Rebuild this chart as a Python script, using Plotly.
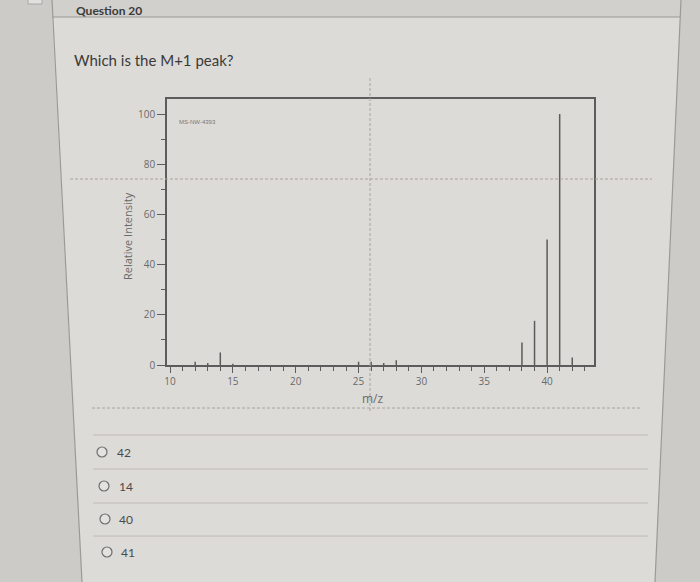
import plotly.graph_objects as go

# ---- data ----
mz = [12, 13, 14, 15, 25, 26, 27, 28, 38, 39, 40, 41, 42]
intensity = [1.3, 0.8, 5.0, 0.5, 1.3, 1.3, 0.8, 1.9, 9.0, 17.6, 50.0, 100.0, 3.0]
x_tick_vals = [10, 15, 20, 25, 30, 35, 40]
y_tick_vals = [0, 20, 40, 60, 80, 100]
options = ["42", "14", "40", "41"]
question = "Which is the M+1 peak?"

W, H = 700, 582
L, R, T, B = 167, 594, 99, 365  # plot area in pixels


def px(x):
    return (x - L) / (R - L)


def py(y):
    return (B - y) / (B - T)


xs, ys = [], []
for m, v in zip(mz, intensity):
    xs += [m, m, None]
    ys += [0, v, None]

fig = go.Figure()
fig.add_trace(go.Scatter(x=xs, y=ys, mode="lines",
                         line=dict(color="#5c5c5c", width=1.5),
                         hoverinfo="skip", showlegend=False))

axis_col = "#5c5c5c"
tick_font = dict(family="Open Sans, Arial, sans-serif", size=10, color="#6a6a6a")

fig.update_xaxes(range=[9.76, 43.73], tickvals=x_tick_vals, ticks="outside", ticklen=6,
                 tickcolor=axis_col, tickwidth=1.2,
                 minor=dict(dtick=1, tick0=10, ticks="outside", ticklen=4,
                            tickcolor=axis_col, tickwidth=1),
                 showline=True, linecolor=axis_col, linewidth=1.5, mirror=True,
                 showgrid=False, zeroline=False, tickfont=tick_font)
fig.update_yaxes(range=[0, 106], tickvals=y_tick_vals, ticks="outside", ticklen=8,
                 tickcolor=axis_col, tickwidth=1.2,
                 minor=dict(dtick=10, tick0=0, ticks="outside", ticklen=4,
                            tickcolor=axis_col, tickwidth=1),
                 showline=True, linecolor=axis_col, linewidth=1.5, mirror=True,
                 showgrid=False, zeroline=False, tickfont=tick_font)

shapes = []
panel_col = "#dddbd7"
outside_col = "#cdcbc8"
border_col = "#9c9a97"

# panel (slanted edges from photo perspective)
shapes.append(dict(type="path", xref="paper", yref="paper", layer="below",
                   path=f"M {px(52)} {py(17)} L {px(680)} {py(17)} L {px(655)} {py(582)} L {px(82)} {py(582)} Z",
                   fillcolor=panel_col, line=dict(width=0)))
# top band
shapes.append(dict(type="path", xref="paper", yref="paper", layer="below",
                   path=f"M {px(52)} {py(0)} L {px(681)} {py(0)} L {px(680)} {py(17)} L {px(52)} {py(17)} Z",
                   fillcolor="#d2d0cd", line=dict(width=0)))
# borders
for (x0, y0, x1, y1) in [(52, 17, 680, 17), (52, 0, 82, 582), (681, 0, 655, 582)]:
    shapes.append(dict(type="line", xref="paper", yref="paper", layer="below",
                       x0=px(x0), y0=py(y0), x1=px(x1), y1=py(y1),
                       line=dict(color=border_col, width=1.2)))
# small checkbox top-left
shapes.append(dict(type="rect", xref="paper", yref="paper", layer="below",
                   x0=px(28), y0=py(-6), x1=px(42), y1=py(4),
                   line=dict(color="#aaa8a5", width=1), fillcolor="#e2e0dc"))

# dashed guide lines
dash_col = "#a8a4a0"
for (x0, y0, x1, y1) in [(70, 179, 652, 179), (370, 78, 370, 413), (92, 408, 640, 408)]:
    shapes.append(dict(type="line", xref="paper", yref="paper",
                       x0=px(x0), y0=py(y0), x1=px(x1), y1=py(y1),
                       line=dict(color=dash_col, width=1, dash="3px,2px")))

# option separators
for yy in [435, 469, 503, 536]:
    shapes.append(dict(type="line", xref="paper", yref="paper", layer="below",
                       x0=px(93), y0=py(yy), x1=px(648), y1=py(yy),
                       line=dict(color="#bfbcb8", width=1)))

annotations = []
circle_pos = [(102, 452), (104, 486), (105, 519), (107, 552)]
label_x = [115, 117, 117, 119]
for (cx, cy), lx, txt in zip(circle_pos, label_x, options):
    shapes.append(dict(type="circle", xref="paper", yref="paper",
                       x0=px(cx - 5), x1=px(cx + 5), y0=py(cy - 5), y1=py(cy + 5),
                       line=dict(color="#6e6e6e", width=1.2), fillcolor="#e4e2de"))
    annotations.append(dict(text=txt, xref="paper", yref="paper", x=px(lx), y=py(cy),
                            xanchor="left", yanchor="middle", showarrow=False,
                            font=dict(family="Lato, sans-serif", size=12, color="#4a4a4a")))

annotations += [
    dict(text=question, xref="paper", yref="paper", x=px(72), y=py(60),
         xanchor="left", yanchor="middle", showarrow=False,
         font=dict(family="Lato, sans-serif", size=15, color="#3a3a3a")),
    dict(text="<b>Question 20</b>", xref="paper", yref="paper", x=px(74), y=py(1),
         xanchor="left", yanchor="top", showarrow=False,
         font=dict(family="Lato, sans-serif", size=12, color="#3a3a3a")),
    dict(text="Relative Intensity", xref="paper", yref="paper", x=px(127), y=py(236),
         xanchor="center", yanchor="middle", showarrow=False, textangle=-90,
         font=dict(family="Open Sans, Arial, sans-serif", size=11, color="#6a6a6a")),
    dict(text="m/z", xref="paper", yref="paper", x=px(373), y=py(398),
         xanchor="center", yanchor="middle", showarrow=False,
         font=dict(family="Open Sans, Arial, sans-serif", size=12, color="#6a6a6a")),
    dict(text="MS-NW-4393", xref="paper", yref="paper", x=px(177), y=py(122),
         xanchor="left", yanchor="middle", showarrow=False,
         font=dict(family="Arial, sans-serif", size=6, color="#777777")),
]

fig.update_layout(width=W, height=H,
                  margin=dict(l=L, r=W - R, t=T, b=H - B, pad=0),
                  paper_bgcolor=outside_col, plot_bgcolor="rgba(0,0,0,0)",
                  shapes=shapes, annotations=annotations, showlegend=False)

fig.write_html("out.html")
